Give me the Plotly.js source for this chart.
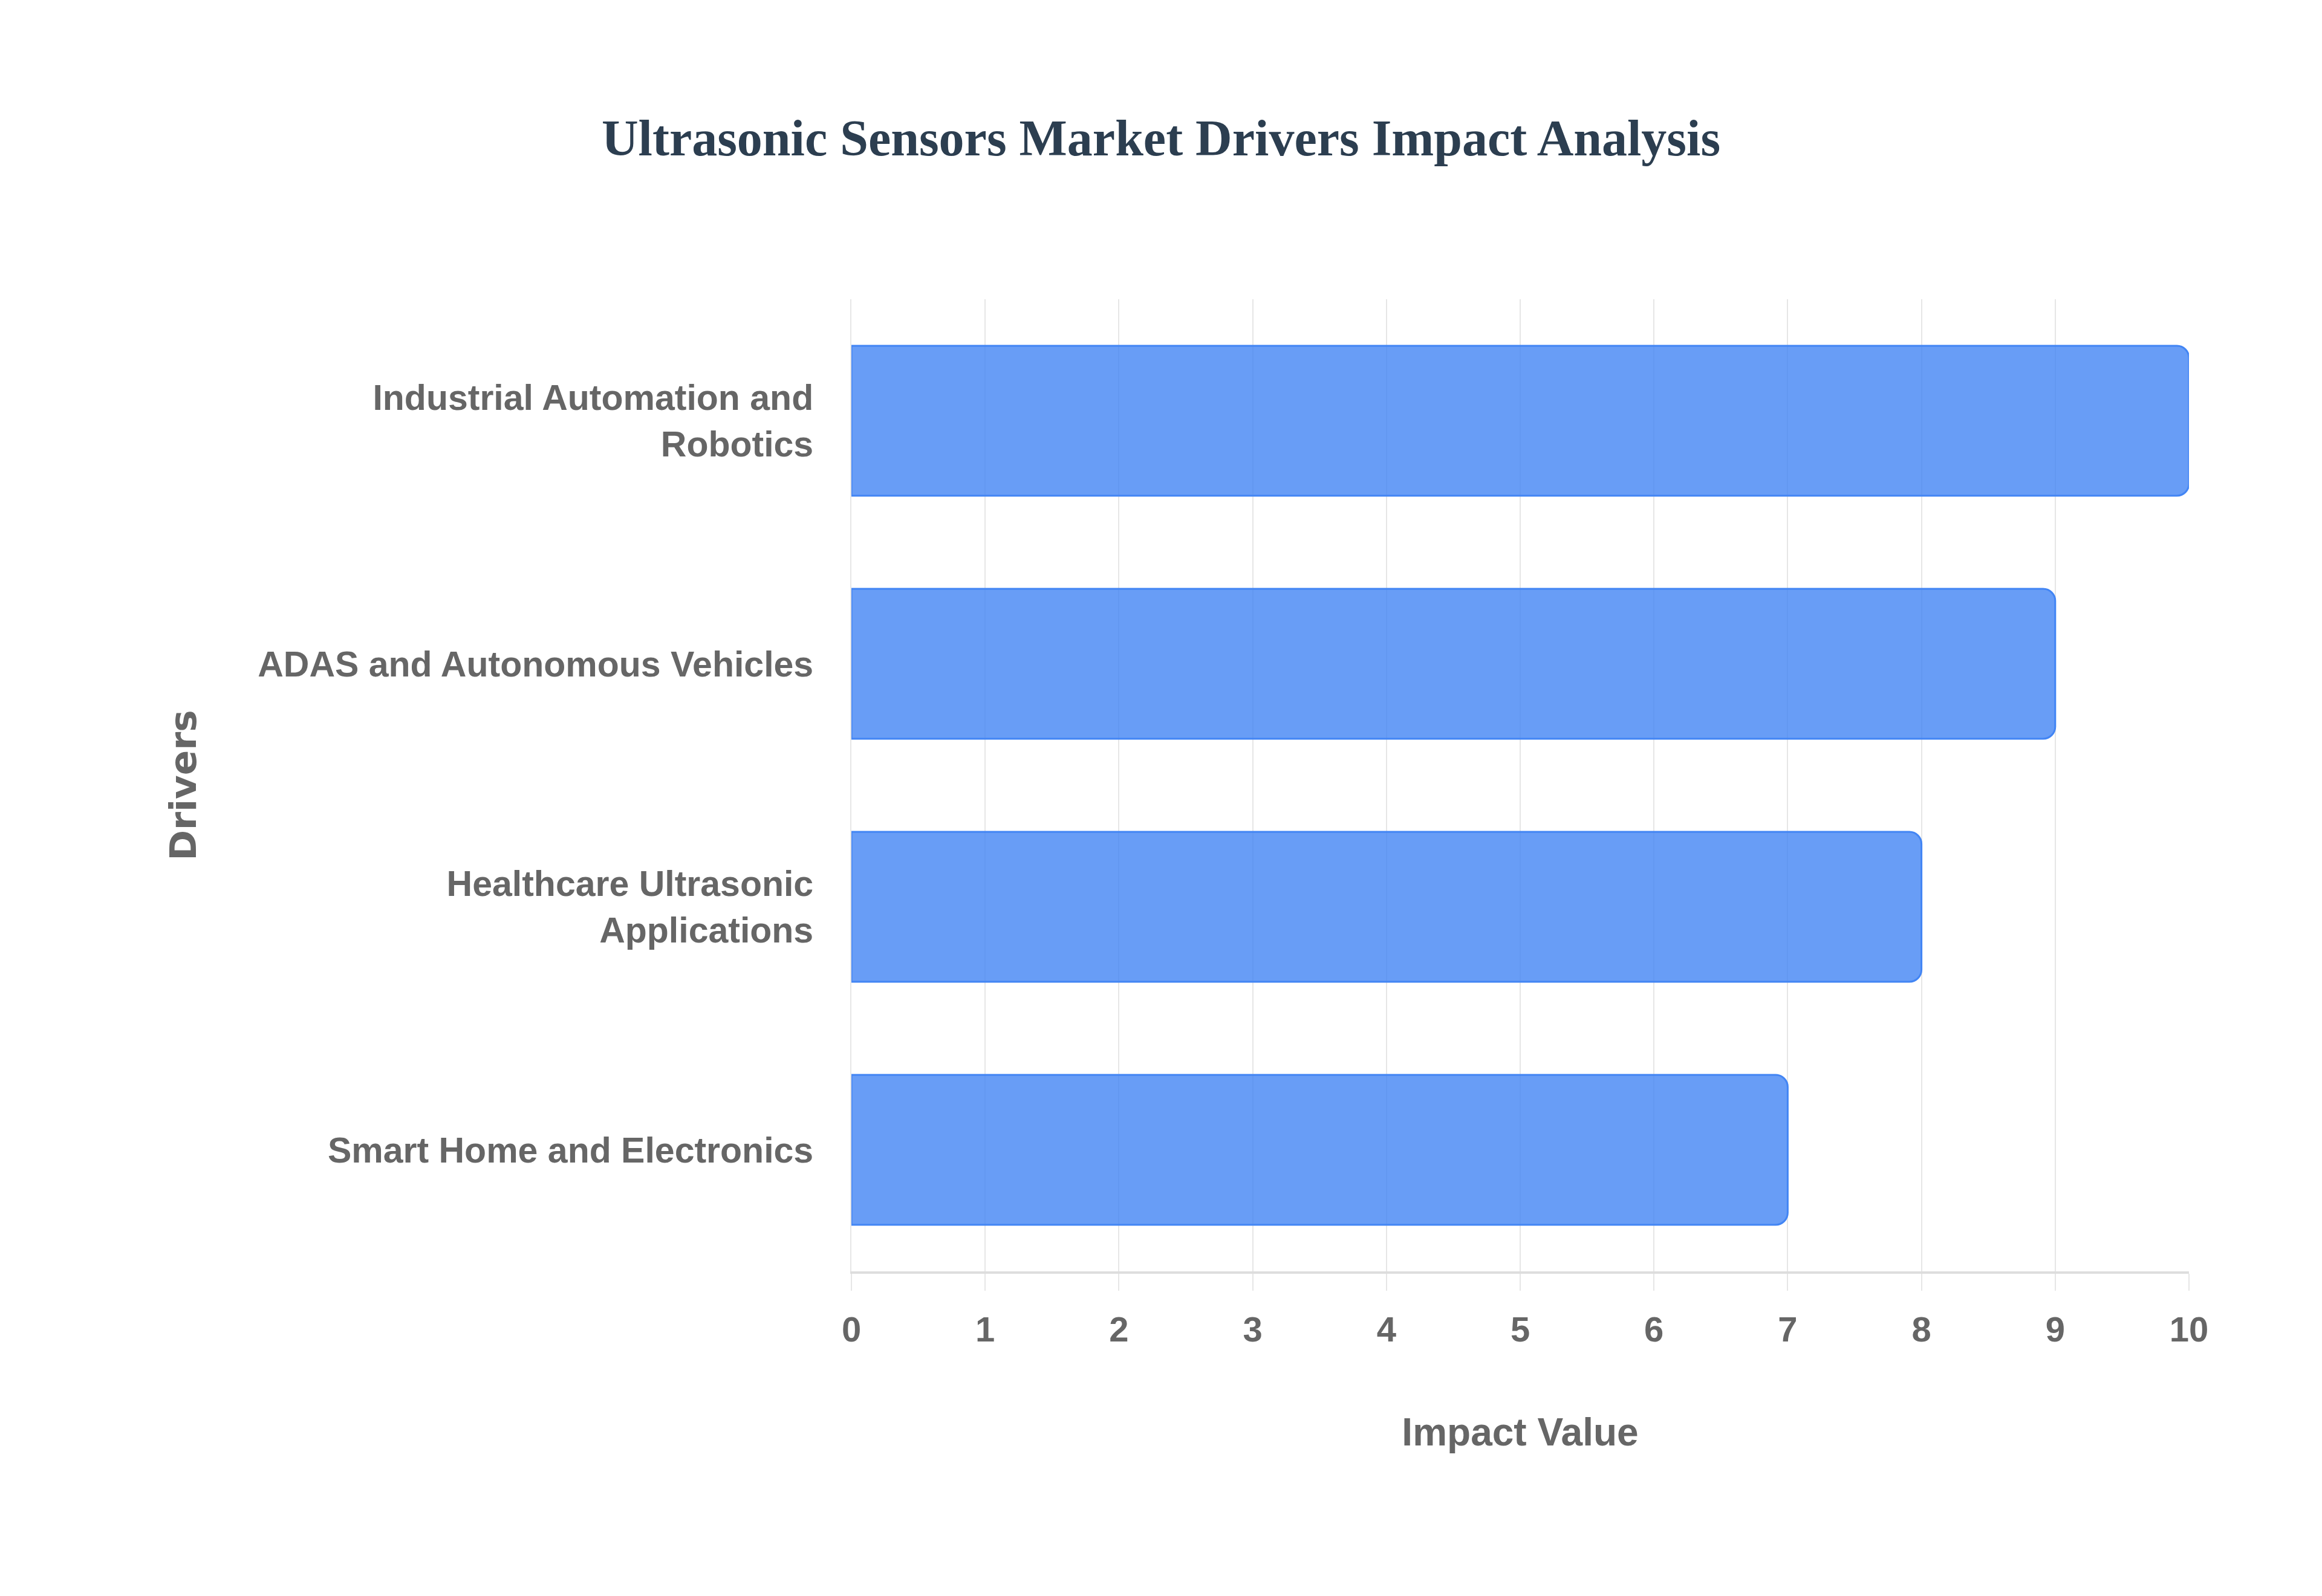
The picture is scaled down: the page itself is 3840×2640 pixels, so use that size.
<!DOCTYPE html>
<html>
<head>
<meta charset="utf-8">
<script src="https://cdn.plot.ly/plotly-3.0.1.min.js"></script>
<style>
  html, body { margin: 0; padding: 0; background: #fff; }
  #chart { width: 3840px; height: 2640px; }
</style>
</head>
<body>
<div id="chart"></div>
<script>
// drivers, top to bottom as they appear in the chart
const drivers = [
  'Industrial Automation and Robotics',
  'ADAS and Autonomous Vehicles',
  'Healthcare Ultrasonic Applications',
  'Smart Home and Electronics',
];
const driverLabels = [
  'Industrial Automation and<br>Robotics',
  'ADAS and Autonomous Vehicles',
  'Healthcare Ultrasonic<br>Applications',
  'Smart Home and Electronics',
];
const impactValues = [10, 9, 8, 7];
const impactTicks = [0, 1, 2, 3, 4, 5, 6, 7, 8, 9, 10];

const LABEL_GREY = '#666666';
const GRID_GREY = '#e6e6e6';
const SANS = 'Liberation Sans, Arial, Helvetica, sans-serif';

const traces = [
  {
    type: 'bar',
    orientation: 'h',
    x: impactValues,
    y: drivers,
    marker: {
      color: 'rgba(66, 133, 244, 0.8)',
      line: { color: 'rgb(66, 133, 244)', width: 3 },
    },
    hoverinfo: 'none',
  },
];

const layout = {
  width: 3840,
  height: 2640,
  paper_bgcolor: '#ffffff',
  plot_bgcolor: '#ffffff',
  showlegend: false,
  bargap: 0.383,
  barcornerradius: 20,
  margin: { l: 1408, r: 220, t: 495, b: 537 },
  title: {
    text: '<b>Ultrasonic Sensors Market Drivers Impact Analysis</b>',
    x: 0.5,
    xref: 'container',
    xanchor: 'center',
    y: 1 - 228 / 2640,
    yref: 'container',
    yanchor: 'middle',
    font: { family: 'Liberation Serif, Times New Roman, serif', size: 84, color: '#2c3e50' },
  },
  xaxis: {
    range: [0, 10],
    tickmode: 'array',
    tickvals: impactTicks,
    ticktext: impactTicks.map(String),
    showgrid: true,
    gridcolor: GRID_GREY,
    gridwidth: 2,
    zeroline: false,
    showline: true,
    linecolor: '#dddddd',
    linewidth: 4,
    ticks: 'outside',
    ticklen: 28,
    tickwidth: 2,
    tickcolor: GRID_GREY,
    ticklabelstandoff: 14,
    tickfont: { family: SANS, size: 58, color: LABEL_GREY, weight: 'bold' },
    title: {
      text: 'Impact Value',
      standoff: 118,
      font: { family: SANS, size: 64, color: LABEL_GREY, weight: 'bold' },
    },
    fixedrange: true,
  },
  yaxis: {
    type: 'category',
    categoryorder: 'array',
    categoryarray: drivers,
    range: [3.5, -0.5],
    tickmode: 'array',
    tickvals: drivers,
    ticktext: driverLabels,
    showgrid: false,
    zeroline: false,
    showline: true,
    linecolor: GRID_GREY,
    linewidth: 2,
    ticks: '',
    ticklabelstandoff: 49,
    tickfont: { family: SANS, size: 59, color: LABEL_GREY, weight: 'bold' },
    title: {
      text: 'Drivers',
      standoff: 82,
      font: { family: 'DejaVu Sans, Verdana, sans-serif', size: 61, color: LABEL_GREY, weight: 'bold' },
    },
    fixedrange: true,
  },
};

Plotly.newPlot('chart', traces, layout, { displayModeBar: false, staticPlot: true });
</script>
</body>
</html>
